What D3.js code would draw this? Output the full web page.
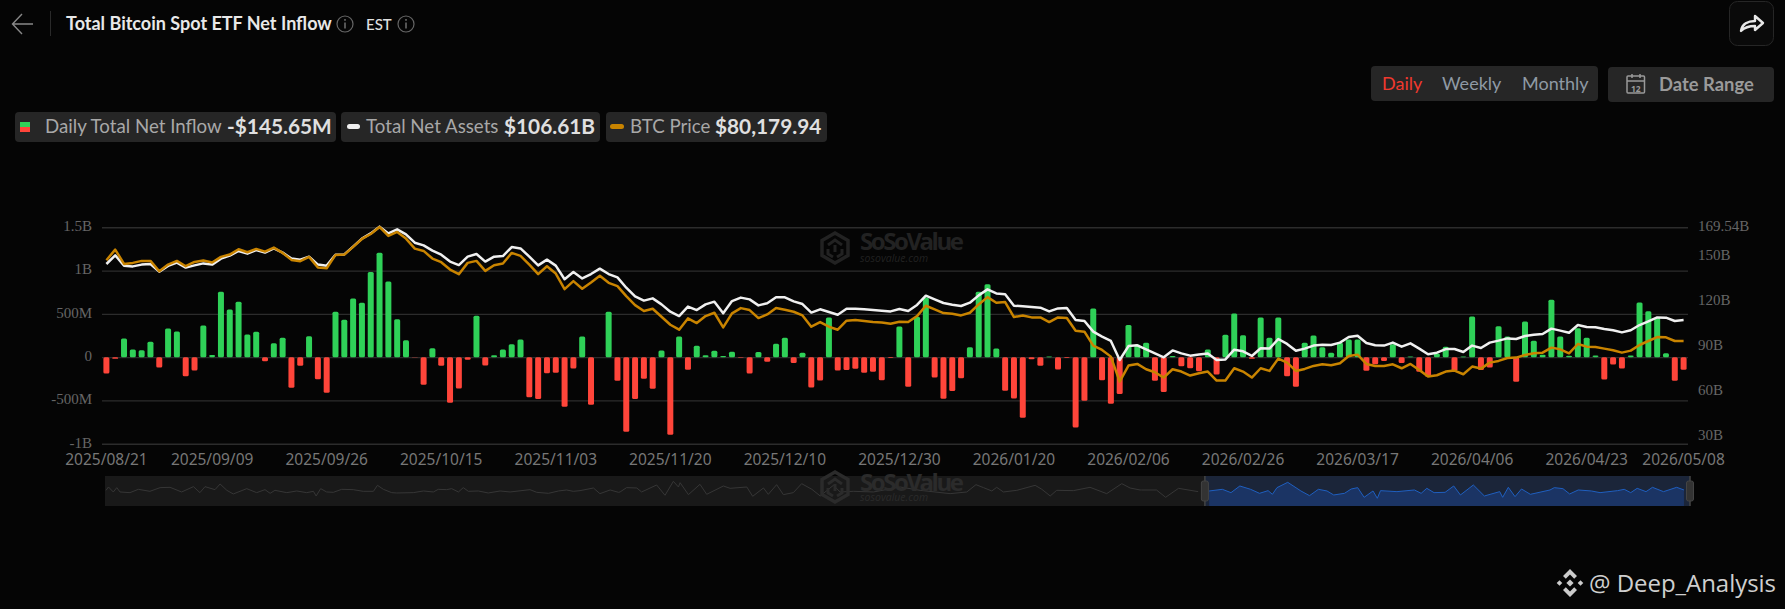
<!DOCTYPE html>
<html>
<head>
<meta charset="utf-8">
<script src="https://cdn.jsdelivr.net/npm/d3@7"></script>
<style>
  html, body { margin: 0; padding: 0; background: #050505; overflow: hidden; }
  svg { display: block; }
  .lato { font-family: Lato, sans-serif; }
  .ax text { font-family: "Liberation Serif", serif; font-size: 15px; fill: #666; }
  .xax text { font-family: "Noto Sans", sans-serif; font-size: 15.5px; fill: #777; }
</style>
</head>
<body>
<div id="chart"></div>
<script>
// trading days shown in the main chart
const holidays = ["2025-09-01","2025-11-27","2025-12-25","2026-01-01","2026-01-19","2026-02-16","2026-04-03"]
const fmtKey = d3.utcFormat("%Y-%m-%d")
const fmtDay = d3.utcFormat("%Y/%m/%d")
const dates = d3.utcDay.range(new Date(Date.UTC(2025,7,21)), new Date(Date.UTC(2026,4,9)))
  .filter(d => d.getUTCDay() % 6 !== 0 && !holidays.includes(fmtKey(d)))
  .map(fmtDay)

const tickLabels = ["2025/08/21","2025/09/09","2025/09/26","2025/10/15","2025/11/03","2025/11/20","2025/12/10",
  "2025/12/30","2026/01/20","2026/02/06","2026/02/26","2026/03/17","2026/04/06","2026/04/23","2026/05/08"]

// daily total net inflow, $M
const inflow = [-188,-20,215,88,80,177,-120,330,296,-220,-154,365,25,755,550,640,262,292,-48,160,
  223,-355,-100,240,-255,-412,523,432,678,627,985,1205,873,438,196,-5,-320,104,-100,-527,
  -363,-30,477,-96,23,88,150,204,-462,-485,-185,-181,-574,-131,239,-550,0,524,-273,-862,
  -485,-250,-366,77,-897,239,-146,131,23,73,12,62,-8,-189,58,-54,154,223,-69,50,
  -350,-270,458,-154,-150,-135,-181,-170,-266,-10,354,-342,466,689,-235,-481,-392,-243,115,754,
  843,100,-389,-477,-700,-23,-100,8,-142,-10,-812,-504,562,-266,-539,-427,370,146,165,-273,
  -404,12,-104,-127,-162,88,-200,258,504,254,-20,458,223,458,-220,-342,165,250,115,50,
  165,204,204,-158,-81,-46,150,-69,8,-170,-227,42,119,-158,8,470,-150,-119,358,239,
  -285,412,188,27,662,239,15,335,223,19,-258,-85,-131,19,631,531,458,46,-273,-145.65]

// total net assets, $B
const netAssets = [144.0,149.8,142.9,142.4,143.6,144.0,138.9,142.7,144.9,141.6,143.1,144.4,143.6,147.6,149.6,152.7,150.9,153.3,151.6,154.4,
  151.6,147.6,146.9,148.9,143.6,142.9,150.2,150.4,155.6,160.9,164.4,168.9,164.4,167.1,163.8,158.2,156.4,152.9,150.2,145.6,
  143.3,148.9,150.7,145.6,148.9,149.3,155.3,154.4,148.9,143.1,146.9,142.9,133.8,138.7,134.4,137.3,140.9,137.3,135.1,128.2,
  122.4,119.6,121.1,117.1,112.2,109.3,115.6,113.3,117.1,118.9,111.1,119.3,121.6,120.4,116.4,117.8,121.8,121.8,119.1,117.3,
  111.6,113.8,112.0,110.2,114.2,114.2,113.8,113.3,112.9,112.4,114.0,112.7,116.7,122.9,120.4,118.0,116.9,116.0,118.2,123.1,
  127.1,124.4,123.8,116.2,115.8,115.3,114.9,112.4,114.4,114.7,106.7,106.0,98.9,95.6,92.7,80.0,89.3,89.8,87.1,84.4,
  81.8,86.4,84.4,82.9,83.6,84.4,80.0,80.4,86.9,85.8,82.7,87.8,87.6,94.0,90.7,86.2,87.6,89.6,90.2,90.0,
  91.6,95.3,96.2,91.3,89.8,89.6,91.6,88.9,91.1,87.6,83.8,84.9,87.3,87.3,85.3,89.6,88.0,91.6,92.9,94.4,
  94.0,96.0,96.9,97.3,100.9,99.6,98.2,103.3,102.0,101.8,100.7,99.8,98.4,99.8,103.3,105.8,108.4,108.2,106.0,106.61]

// BTC price, $
const btcPrice = [112645,116920,111175,111575,112380,112380,108235,110910,112380,110240,111975,112510,111710,113980,114915,117055,115850,117190,116120,117720,
  115585,112780,112245,113980,109705,109440,114780,114915,117990,121195,123200,126005,122400,124000,121330,117320,116385,113315,111845,108905,
  107035,111575,112380,108370,110640,111310,115585,114380,110910,107035,110240,107300,101020,104230,101155,103695,106365,103560,102225,98215,
  94610,92205,93140,89935,86725,84720,89265,87395,90200,91535,85655,91270,93405,92605,89400,90870,93405,92740,91935,90465,
  85925,87795,85925,84720,88330,88595,88195,87795,87660,87130,87930,87795,90200,94340,92870,91400,91135,90465,91535,94875,
  97815,95545,95810,89800,90465,89665,89665,87795,89665,89400,84320,83920,78310,76575,73900,63880,70295,70960,68825,67620,
  65485,68825,67890,66285,67220,67890,64280,64280,69225,67890,65485,69225,68155,73100,71495,68155,68955,70160,70825,70425,
  71230,74170,74700,70960,70160,70160,70825,69225,70960,68555,65885,66420,67890,68290,66820,69895,69090,71495,72165,73365,
  73500,74570,75235,75505,77510,76840,75235,78980,77910,77775,77110,76440,75505,76305,78575,80180,81780,81650,80180,80179.94]

// overview strip: trading day since the start of the history, and flow at that day ($M)
const miniDay = [1.5,2.4,4.2,5.5,6.7,10.4,13.5,17.8,21.6,25.3,29.6,34,36.4,38.3,42,43.9,46.4,48.8,53.8,57.5,60.6,62.5,64.3,68.7,72.4,76.1,78.6,79.6,81.3,83.5,
  86,89.1,93.4,97.1,100.9,102.4,104.6,107.7,109.6,115.7,119.5,123.2,125,128.1,130,132.5,134.3,136.2,139.9,143.6,148,151.7,159.1,161.6,166,169.7,172.7,175.2,177.7,182.7,
  185.1,188.9,192,192.6,195,198.8,200.6,206.2,209.3,212.4,214.3,214.9,218,222.3,224.8,231,233.5,239.7,241.9,245.9,247.7,250.8,253.3,257,260.1,263.9,267,271.9,274.4,279.3,
  286.8,296.7,304.1,315.3,321.5,324.9,327.7,330.8,332.6,335.1,340.1,346.9,349.4,352.5,354.9,361.1,367.3,373.5,379.1,382.2,385.9,386.4,392,395.4,400.2,407.5,
  411.6,416.5,419.7,423,427,430.3,433.5,435.1,436.8,440.8,445.7,448.9,452.2,455.4,457.9,461.9,464.4,466.8,469.2,472.5,474.1,475.3,481.4,487.9,490.4,492.5,495.2,499.3,502.5,505,
  509.8,513.9,519.6,520.7,522.8,525.3,527.7,531,538.3,539.9,543.1,545.6,548.8,553.7,556.9,563.4,565.9,568.3,570.7,574,576.4,580.5,585.4,588.1]
const miniFlow = [105,455,-70,385,-70,-140,210,0,385,420,-70,490,-140,490,175,770,105,-280,280,-140,175,-210,105,-140,35,-140,0,-490,280,-70,
  -105,210,175,0,0,630,210,-140,-175,-140,35,-70,210,175,280,-70,385,0,35,-175,35,-70,175,-105,-210,35,140,0,70,350,
  -245,140,-105,-70,385,350,-70,665,-420,1050,455,910,-350,735,-315,560,315,455,-525,350,-315,700,-350,-140,805,210,-490,630,-70,0,
  -70,455,105,-245,-70,700,385,35,420,-70,105,630,210,-490,105,70,420,-245,805,350,140,140,140,-630,315,-35,
  35,210,-140,560,210,-210,70,-315,385,945,35,-455,210,35,-385,-210,245,385,-630,35,-735,70,-35,140,-210,315,-140,-105,560,-385,
  665,-490,-35,-630,420,-560,245,-315,140,385,280,-280,140,35,-140,70,210,-140,315,-35,420,-35,420,140]
const miniStartDay = 410

const W = 1785, H = 609
const plot = {left: 102, right: 1688, top: 227.3, bottom: 443.7}

const svg = d3.select("#chart").append("svg").attr("width", W).attr("height", H)

svg.append("rect").attr("width", W).attr("height", H).attr("fill", "#050505")

// scales
const x = d3.scaleBand().domain(dates).range([plot.left, plot.right])
const yFlow = d3.scaleLinear().domain([-1000, 1500]).range([plot.bottom, plot.top])
const yAssets = d3.scaleLinear().domain([30, 150]).range([435, 255])
const yPrice = d3.scaleLinear().domain([80179.94, 126000]).range([341, 227])

// left axis with grid
svg.append("g").attr("class", "ax")
  .attr("transform", `translate(${plot.left},0)`)
  .call(d3.axisLeft(yFlow).tickValues([-1000,-500,0,500,1000,1500])
    .tickSize(-(plot.right - plot.left)).tickPadding(10)
    .tickFormat(d => d === 0 ? "0" : Math.abs(d) >= 1000 ? (d / 1000) + "B" : d + "M"))
  .call(g => g.select(".domain").remove())
  .call(g => g.selectAll("line").attr("stroke", "#2c2c2c").attr("stroke-width", 1.4))
  .call(g => g.selectAll("text").attr("transform", "translate(0,-1.5)"))

// right axis
svg.append("g").attr("class", "ax")
  .attr("transform", `translate(${plot.right},0)`)
  .call(d3.axisRight(yAssets).tickValues([30,60,90,120,150,169.54]).tickSize(0).tickPadding(10)
    .tickFormat(d => d + "B"))
  .call(g => g.select(".domain").remove())

// x axis
svg.append("g").attr("class", "xax")
  .attr("transform", `translate(0,${plot.bottom + 7})`)
  .call(d3.axisBottom(x).tickValues(tickLabels).tickSize(0).tickPadding(3))
  .call(g => g.select(".domain").remove())

// watermark under the marks
function watermark(cx, cy, tx, ty1, ty2, col) {
  const g = svg.append("g")
  const r = 15
  const hex = d3.range(6).map(i => {
    const a = Math.PI / 3 * i + Math.PI / 6
    return [cx + r * Math.cos(a), cy + r * Math.sin(a)]
  })
  g.append("path").attr("d", d3.line()(hex) + "Z").attr("fill", "none").attr("stroke", col).attr("stroke-width", 3.5)
  g.append("path").attr("d", `M${cx-7},${cy-3}L${cx},${cy-8}L${cx+7},${cy-3}M${cx},${cy-3}V${cy+4}M${cx-7},${cy+1}V${cy+6}L${cx-2},${cy+9}M${cx+7},${cy+1}V${cy+6}L${cx+2},${cy+9}`)
    .attr("fill", "none").attr("stroke", col).attr("stroke-width", 3)
  g.append("text").attr("x", tx).attr("y", ty1).attr("fill", col)
    .style("font", "bold 24px 'Open Sans', sans-serif").attr("textLength", 104).text("SoSoValue")
  g.append("text").attr("x", tx).attr("y", ty2).attr("fill", col)
    .style("font", "italic 10.5px 'Open Sans', sans-serif").text("sosovalue.com")
}
watermark(835, 248, 860, 250, 262, "#222")

// bars
svg.append("g").selectAll("rect")
  .data(inflow)
  .join("rect")
    .attr("x", (d, i) => x(dates[i]) + (x.bandwidth() - 6) / 2)
    .attr("width", 6)
    .attr("y", d => yFlow(Math.max(d, 0)))
    .attr("height", d => Math.abs(yFlow(d) - yFlow(0)))
    .attr("rx", 1.5)
    .attr("fill", d => d >= 0 ? "#2fd158" : "#ff453a")

// lines
const lineOf = (arr, y) => d3.line().x((d, i) => x(dates[i]) + x.bandwidth() / 2).y(d => y(d))(arr)
svg.append("path").attr("d", lineOf(netAssets, yAssets))
  .attr("fill", "none").attr("stroke", "#f0f0f0").attr("stroke-width", 2.5).attr("stroke-linejoin", "round")
svg.append("path").attr("d", lineOf(btcPrice, yPrice))
  .attr("fill", "none").attr("stroke", "#c98400").attr("stroke-width", 2.5).attr("stroke-linejoin", "round")

// overview strip
const mini = {left: 105, right: 1690, top: 476, bottom: 506}
const xMini = d3.scaleLinear().domain([0, 589.6]).range([plot.left, plot.right])
const yMini = d3.scaleLinear().domain([-1470, 1610]).range([505.3, 476])
const miniPts = miniDay.map((d, i) => [d, miniFlow[i]])
const before = miniPts.filter(d => d[0] <= miniStartDay)
const after = miniPts.filter(d => d[0] >= miniStartDay)
const miniLine = d3.line().x(d => xMini(d[0])).y(d => yMini(d[1]))
const miniArea = d3.area().x(d => xMini(d[0])).y0(mini.bottom).y1(d => yMini(d[1]))
const selX = xMini(miniStartDay)

svg.append("rect").attr("x", mini.left).attr("y", mini.top).attr("width", selX - mini.left)
  .attr("height", mini.bottom - mini.top).attr("fill", "#191919")
svg.append("path").attr("d", miniLine(before)).attr("fill", "none").attr("stroke", "#363636").attr("stroke-width", 1)
svg.append("rect").attr("x", selX).attr("y", mini.top).attr("width", mini.right - selX)
  .attr("height", mini.bottom - mini.top).attr("fill", "#1b2539")
svg.append("path").attr("d", miniArea(after)).attr("fill", "#1b3464")
svg.append("path").attr("d", miniLine(after)).attr("fill", "none").attr("stroke", "#1f5fc0").attr("stroke-width", 1)

// handles
;[selX, mini.right].forEach(hx => {
  svg.append("rect").attr("x", hx - 0.75).attr("y", mini.top).attr("width", 1.5).attr("height", mini.bottom - mini.top).attr("fill", "#444")
  svg.append("rect").attr("x", hx - 3.5).attr("y", 481).attr("width", 7).attr("height", 20).attr("rx", 2).attr("fill", "#333").attr("stroke", "#444")
})
watermark(835, 487, 860, 491, 501, "#2b2b2b")

// header
const txt = (tx, ty, s, size, weight, col, anchor) => svg.append("text").attr("class", "lato")
  .attr("x", tx).attr("y", ty).attr("fill", col).attr("text-anchor", anchor || "start")
  .style("font-size", size + "px").style("font-weight", weight).text(s)
const pill = (x0, y0, x1, y1) => svg.append("rect").attr("x", x0).attr("y", y0).attr("width", x1 - x0).attr("height", y1 - y0).attr("rx", 4).attr("fill", "#262626")
const info = (cx, cy) => {
  svg.append("circle").attr("cx", cx).attr("cy", cy).attr("r", 8).attr("fill", "none").attr("stroke", "#666").attr("stroke-width", 1.2)
  svg.append("rect").attr("x", cx - 0.7).attr("y", cy - 1.5).attr("width", 1.4).attr("height", 6).attr("fill", "#777")
  svg.append("rect").attr("x", cx - 0.7).attr("y", cy - 5).attr("width", 1.4).attr("height", 1.8).attr("fill", "#777")
}

svg.append("path").attr("d", "M33,24H13M22,14L12.5,24L22,34").attr("fill", "none").attr("stroke", "#888").attr("stroke-width", 1.4)
svg.append("rect").attr("x", 50).attr("y", 11).attr("width", 1).attr("height", 25).attr("fill", "#2a2a2a")
txt(66, 30, "Total Bitcoin Spot ETF Net Inflow", 18, 700, "#e8e8e8")
info(345, 24)
txt(366, 30, "EST", 15, 500, "#e0e0e0")
info(406, 24)

// share button
svg.append("rect").attr("x", 1729.5).attr("y", 1.5).attr("width", 44).attr("height", 44).attr("rx", 8).attr("fill", "#0a0a0a").attr("stroke", "#262626")
svg.append("path").attr("d", "M1741,31C1742,24 1748,21 1755,21V16L1763,23L1755,30V26C1750,26 1745,27 1741,31Z")
  .attr("fill", "none").attr("stroke", "#e8e8e8").attr("stroke-width", 2.4).attr("stroke-linejoin", "round")

// period tabs
pill(1371, 66, 1598, 101)
txt(1382, 90, "Daily", 18, 400, "#f0392e")
txt(1442, 90, "Weekly", 18, 400, "#8f9aa5")
txt(1522, 90, "Monthly", 18, 400, "#8f9aa5")
pill(1608, 67, 1774, 102)
svg.append("rect").attr("x", 1627).attr("y", 76).attr("width", 17.5).attr("height", 17).attr("rx", 1).attr("fill", "none").attr("stroke", "#999").attr("stroke-width", 1.5)
svg.append("path").attr("d", "M1627,81H1644.5M1632,74V78M1640,74V78").attr("stroke", "#999").attr("stroke-width", 1.5).attr("fill", "none")
svg.append("text").attr("x", 1635.8).attr("y", 91.5).attr("text-anchor", "middle").attr("fill", "#999").style("font", "bold 8.5px 'Noto Sans'").text("12")
txt(1659, 91, "Date Range", 18.4, 700, "#9a9a9a")

// legend
pill(15, 112, 336, 142)
svg.append("rect").attr("x", 20).attr("y", 122).attr("width", 10).attr("height", 5).attr("fill", "#2fd158")
svg.append("rect").attr("x", 20).attr("y", 127).attr("width", 10).attr("height", 5).attr("fill", "#ff453a")
txt(45, 133, "Daily Total Net Inflow", 18.7, 400, "#a8a8a8")
txt(227, 134, "-$145.65M", 20.8, 700, "#e0e0e0")
pill(341, 112, 600, 142)
svg.append("rect").attr("x", 347).attr("y", 124).attr("width", 13).attr("height", 5).attr("rx", 2.5).attr("fill", "#f0f0f0")
txt(366, 133, "Total Net Assets", 18.7, 400, "#a8a8a8")
txt(504, 134, "$106.61B", 20.8, 700, "#e0e0e0")
pill(606, 112, 827, 142)
svg.append("rect").attr("x", 610).attr("y", 124).attr("width", 14).attr("height", 5).attr("rx", 2.5).attr("fill", "#c98400")
txt(630, 133, "BTC Price", 18.7, 400, "#a8a8a8")
txt(715, 134, "$80,179.94", 20.8, 700, "#e0e0e0")

// footer credit
const cb = [1570, 583]
const logo = svg.append("g").attr("transform", `translate(${cb[0]},${cb[1]})`).attr("fill", "#ccc")
logo.append("path").attr("d", "M0,-14L7,-7L4.2,-4.2L0,-8.4L-4.2,-4.2L-7,-7Z")
logo.append("path").attr("d", "M0,14L7,7L4.2,4.2L0,8.4L-4.2,4.2L-7,7Z")
logo.append("path").attr("d", "M0,-3.6L3.6,0L0,3.6L-3.6,0Z")
logo.append("path").attr("d", "M-10.5,-2.8L-7.7,0L-10.5,2.8L-13.3,0Z")
logo.append("path").attr("d", "M10.5,-2.8L13.3,0L10.5,2.8L7.7,0Z")
svg.append("text").attr("x", 1589).attr("y", 592).attr("fill", "#cfcfcf")
  .style("font", "400 24px 'Open Sans', sans-serif").attr("textLength", 187).text("@ Deep_Analysis")
</script>
</body>
</html>
